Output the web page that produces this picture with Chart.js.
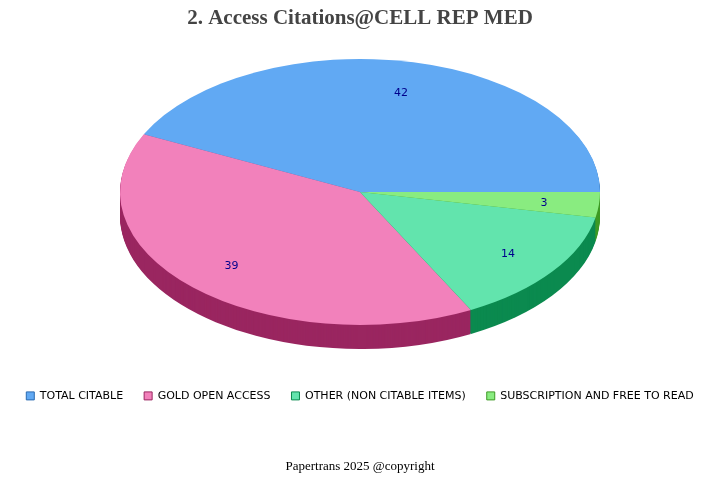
<!DOCTYPE html>
<html>
<head>
<meta charset="utf-8">
<script src="https://cdn.jsdelivr.net/npm/chart.js@4"></script>
<style>
  body { margin: 0; background: #fff; }
  #wrap { width: 720px; height: 480px; }
</style>
</head>
<body>
<div id="wrap"><canvas id="grafico"></canvas></div>
<script>
const categorias = ['TOTAL CITABLE', 'GOLD OPEN ACCESS', 'OTHER (NON CITABLE ITEMS)', 'SUBSCRIPTION AND FREE TO READ']
const valores = [42, 39, 14, 3]
const cores = ['#61a9f3', '#f281bb', '#62e4ad', '#89ec80']
const coresLado = ['#2a6ab0', '#9a2660', '#0b8a4f', '#3f9a25']

// where the tilted pie sits on the page
const centroX = 360, centroY = 192, raioX = 240, raioY = 133, altura = 24

function transforma (ctx, arco, dy) {
  ctx.translate(centroX, centroY + dy)
  ctx.scale(raioX / arco.outerRadius, -raioY / arco.outerRadius)
  ctx.translate(-arco.x, -arco.y)
}

const pizza3d = {
  id: 'pizza3d',
  beforeDatasetsDraw (chart) {
    const ctx = chart.ctx
    const arcos = chart.getDatasetMeta(0).data
    // side walls, stacked from the bottom up
    for (let d = altura; d >= 1; d--) {
      arcos.forEach((arco, i) => {
        ctx.save()
        transforma(ctx, arco, d)
        ctx.beginPath()
        ctx.moveTo(arco.x, arco.y)
        ctx.arc(arco.x, arco.y, arco.outerRadius, arco.startAngle, arco.endAngle)
        ctx.closePath()
        ctx.fillStyle = coresLado[i]
        ctx.fill()
        ctx.restore()
      })
    }
    ctx.save()
    transforma(ctx, arcos[0], 0)
  },
  afterDatasetsDraw (chart) {
    const ctx = chart.ctx
    ctx.restore()
    const arcos = chart.getDatasetMeta(0).data
    ctx.save()
    ctx.font = '11px "DejaVu Sans"'
    ctx.fillStyle = '#00008b'
    ctx.textAlign = 'center'
    ctx.textBaseline = 'middle'
    arcos.forEach((arco, i) => {
      const meio = (arco.startAngle + arco.endAngle) / 2
      const f = 0.77
      const x = centroX + raioX * f * Math.cos(meio)
      const y = centroY - raioY * f * Math.sin(meio) + 1
      ctx.fillText(String(valores[i]), x, y)
    })
    ctx.restore()
  }
}

new Chart(document.getElementById('grafico'), {
  type: 'pie',
  data: {
    labels: categorias,
    datasets: [{
      data: valores,
      backgroundColor: cores,
      borderWidth: 0
    }]
  },
  options: {
    responsive: true,
    maintainAspectRatio: false,
    animation: false,
    events: [],
    rotation: 90,
    plugins: {
      title: {
        display: true,
        text: '2. Access Citations@CELL REP MED',
        color: '#444',
        font: { family: '"Liberation Serif"', size: 21, weight: 'bold' },
        padding: { top: 6, bottom: 10 }
      },
      subtitle: {
        display: true,
        position: 'bottom',
        text: 'Papertrans 2025 @copyright',
        color: '#000',
        font: { family: '"Liberation Serif"', size: 13 },
        padding: { top: 47, bottom: 6 }
      },
      legend: {
        position: 'bottom',
        labels: {
          color: '#000',
          font: { family: '"DejaVu Sans"', size: 11 },
          boxWidth: 8,
          boxHeight: 8,
          padding: 21,
          generateLabels (chart) {
            return categorias.map((c, i) => ({
              text: c,
              fillStyle: cores[i],
              strokeStyle: coresLado[i],
              lineWidth: 1,
              fontColor: '#000',
              index: i,
              hidden: false
            }))
          }
        }
      },
      tooltip: { enabled: false }
    }
  },
  plugins: [pizza3d]
})
</script>
</body>
</html>
